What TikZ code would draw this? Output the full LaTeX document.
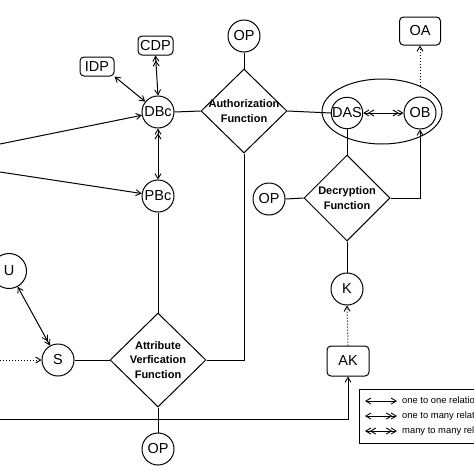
\documentclass[tikz,border=0pt]{standalone}
\usepackage{fontspec}
\setmainfont{Liberation Sans}
\usetikzlibrary{arrows.meta,shapes.geometric}
\tikzset{
  hd/.tip={Straight Barb[length=5pt,width=6pt,line width=0.9pt]},
  hdd/.tip={Straight Barb[length=5pt,width=6pt,line width=0.9pt,sep=-1.5pt]Straight Barb[length=5pt,width=6pt,line width=0.9pt]},
}
\begin{document}
\begin{tikzpicture}[x=1pt,y=-1pt,
  ent/.style={circle,draw,line width=1pt,minimum size=32pt,inner sep=0pt,font=\fontsize{14.5}{16}\selectfont},
  box/.style={rectangle,rounded corners=4pt,draw,line width=1pt,inner sep=0pt,font=\fontsize{14.5}{16}\selectfont},
  dia/.style={diamond,draw,line width=1pt,inner sep=0pt},
  dtext/.style={align=center,inner sep=0pt,font=\fontsize{11}{14.5}\selectfont\bfseries},
  conn/.style={line width=1pt},
  dotconn/.style={line width=1pt,dotted},
  legtext/.style={anchor=west,inner sep=0pt,font=\fontsize{9.4}{11}\selectfont},
]
\useasboundingbox (0,0) rectangle (474,474);

% nodes
\node[box,minimum width=35pt,minimum height=19pt] (CDP) at (155.5,45.5) {CDP};
\node[box,minimum width=34pt,minimum height=19pt] (IDP) at (97,66.5) {IDP};
\node[ent] (DBc) at (158,112) {DBc};
\node[ent] (PBc) at (158,196) {PBc};
\node[dia,minimum width=86pt,minimum height=84pt] (Auth) at (244,111) {};
\node[dtext] (AuthT) at (Auth.center) {Authorization\\Function};
\node[ent] (OPt) at (244,36) {OP};
\node[draw,ellipse,line width=1pt,minimum width=120pt,minimum height=65pt,inner sep=0pt] (grp) at (382,111.5) {};
\node[ent,minimum size=30pt] (DAS) at (347,113) {DAS};
\node[ent] (OB) at (420,113) {OB};
\node[box,minimum width=41pt,minimum height=28pt] (OA) at (420,31) {OA};
\node[dia,minimum width=86pt,minimum height=86pt] (Dec) at (347,198) {};
\node[dtext] (DecT) at (Dec.center) {Decryption\\Function};
\node[ent] (OPd) at (269,199) {OP};
\node[ent] (K) at (347,289) {K};
\node[box,minimum width=42pt,minimum height=30pt] (AK) at (348,361) {AK};
\node[dia,minimum width=96pt,minimum height=94pt] (Attr) at (158,360) {};
\node[dtext] (AttrT) at (Attr.center) {Attribute\\Verfication\\Function};
\node[ent] (S) at (58,360) {S};
\node[ent,minimum size=35pt] (U) at (9,271) {U};
\node[ent] (OPb) at (158,449) {OP};

\coordinate (L1) at (0,144);
\coordinate (L2) at (0,172);
\coordinate (L3) at (0,360);
\coordinate (L4) at (0,419);

% connectors
\draw[conn,-{hd}] (L1) -- (DBc);
\draw[conn,-{hd}] (L2) -- (PBc);
\draw[conn,{hd}-{hd}] (IDP.south east) -- (DBc);
\draw[conn,{hdd}-{hd}] (CDP.south) -- (DBc.north);
\draw[conn,{hdd}-{hd}] (DBc.south) -- (PBc.north);
\draw[conn] (DBc.east) -- (Auth.west);
\draw[conn] (OPt.south) -- (Auth.north);
\draw[conn] (Auth.east) -- (DAS.west);
\draw[conn,{hdd}-{hdd}] (DAS.east) -- (OB.west);
\draw[dotconn,-{hd}] (OA.south |- grp.34) -- (OA.south);
\draw[conn] (DAS.south) -- (Dec.north);
\draw[conn,-{hd}] (Dec.east) -| (OB.south);
\draw[conn] (OPd.east) -- (Dec.west);
\draw[conn] (Dec.south) -- (K.north);
\draw[dotconn,-{hd}] (AK.north) -- (K.south);
\draw[conn,-{hd}] (L4) -| (AK.south);
\draw[conn] (PBc.south) -- (Attr.north);
\draw[conn] (Attr.east) -| (Auth.south);
\draw[conn] (S.east) -- (Attr.west);
\draw[dotconn,-{hd}] (L3) -- (S.west);
\draw[conn,{hd}-{hdd}] (U) -- (S);
\draw[conn] (Attr.south) -- (OPb.north);

% legend
\node[draw,line width=1pt,minimum width=125pt,minimum height=54pt,inner sep=0pt,anchor=north west] (leg) at (359,389) {};
\coordinate (a1) at (365,401); \coordinate (b1) at (397,401);
\coordinate (a2) at (365,416); \coordinate (b2) at (397,416);
\coordinate (a3) at (365,431); \coordinate (b3) at (397,431);
\draw[conn,{hd}-{hd}] (a1) -- (b1);
\draw[conn,{hd}-{hdd}] (a2) -- (b2);
\draw[conn,{hdd}-{hdd}] (a3) -- (b3);
\node[legtext] (t1) at (402,401) {one to one relationship};
\node[legtext] (t2) at (402,416) {one to many relationship};
\node[legtext] (t3) at (402,431) {many to many relationship};
\end{tikzpicture}
\end{document}
